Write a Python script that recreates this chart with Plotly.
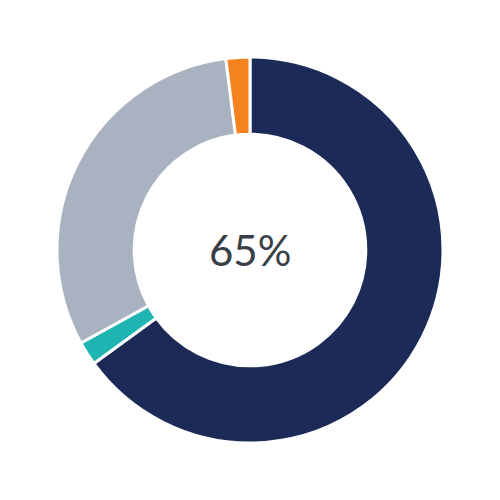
import plotly.graph_objects as go

labels = ["A", "B", "C", "D"]
values = [65, 2, 31, 2]
colors = ["#1b2a57", "#1fb5b3", "#a8b2c1", "#f5821f"]

fig = go.Figure(go.Pie(
    labels=labels, values=values, hole=0.6, sort=False, direction="clockwise",
    rotation=0, textinfo="none", hoverinfo="none",
    marker=dict(colors=colors, line=dict(color="white", width=3)),
    domain=dict(x=[0.098, 0.870], y=[0.130, 0.902]),
))
fig.add_annotation(text="65%", x=0.484, y=0.516, xref="paper", yref="paper", showarrow=False,
                   font=dict(family="Lato", size=42, color="#3a3f47"))
fig.update_layout(width=500, height=500, margin=dict(l=0, r=0, t=0, b=0),
                  showlegend=False, paper_bgcolor="white")
fig.write_html("out.html")
